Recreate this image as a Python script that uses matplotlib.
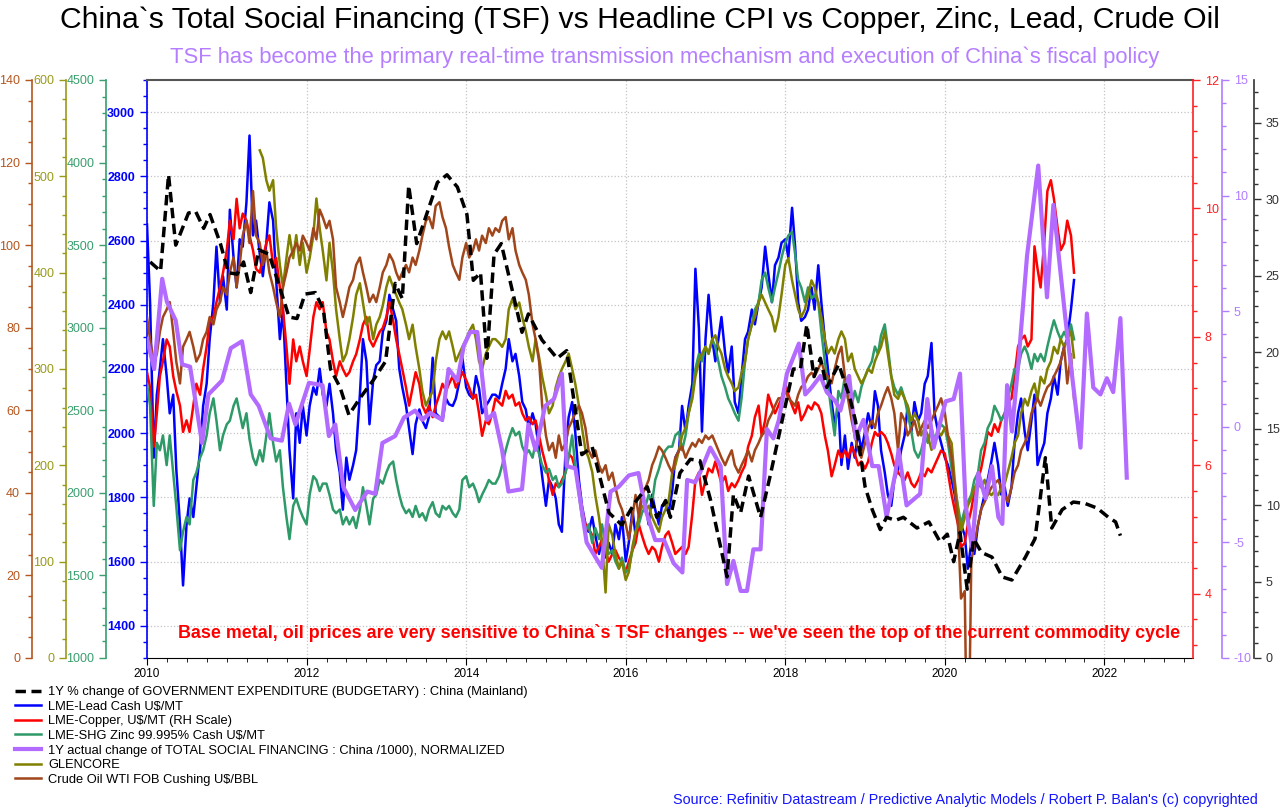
import numpy as np
import pandas as pd
import matplotlib
matplotlib.use("Agg")
import matplotlib.pyplot as plt
from matplotlib.ticker import MultipleLocator, FormatStrFormatter

plt.rcParams["font.family"] = ["Liberation Sans", "DejaVu Sans"]

# ---- series (semi-monthly samples from Jan 2010) ----
lead = [
    2650, 2408, 1924, 2120, 2201, 2293, 2178, 2062, 2120, 1889, 1716, 1526, 1716, 1797, 1739, 1832, 1947, 2085,
    2154, 2293, 2408, 2581, 2408, 2489, 2385, 2696, 2547, 2454, 2604, 2581, 2719, 2927, 2616, 2662, 2558, 2489,
    2593, 2719, 2662, 2477, 2293, 2385, 2154, 1947, 1797, 2062, 1970, 2085, 1993, 2085, 2143, 2120, 2201, 2120,
    2085, 2154, 2062, 1947, 1878, 1762, 1924, 1855, 1901, 1947, 2120, 2293, 2224, 2028, 2166, 2212, 2224, 2316,
    2350, 2431, 2385, 2350, 2201, 2143, 2085, 2016, 1935, 2028, 2074, 2039, 2016, 2051, 2235, 2062, 2050, 2039,
    2108, 2090, 2085, 2108, 2160, 2235, 2143, 2120, 2108, 2178, 2140, 2062, 2085, 2100, 2120,
    2120, 2108, 2154, 2201, 2293, 2224, 2247, 2178, 2097, 2074, 2016, 2062, 2028, 1947, 1866, 1774, 1855, 1832,
    1797, 1716, 1693, 1947, 2050, 2097, 2005, 1855, 1774, 1716, 1693, 1739, 1682, 1624, 1670, 1613, 1659, 1624,
    1716, 1670, 1739, 1601, 1659, 1762, 1682, 1739, 1809, 1774, 1716, 1809, 1762, 1716, 1774, 1786, 1751,
    1820, 1924, 1947, 2085, 2005, 2085, 2154, 2512, 2327, 2005, 2293, 2431, 2293, 2224, 2293, 2362, 2247, 2189,
    2270, 2097, 2062, 2178, 2293, 2316, 2385, 2339, 2408, 2454, 2581, 2500, 2408, 2523, 2547, 2593, 2604, 2547,
    2702, 2581, 2408, 2350, 2362, 2385, 2454, 2385, 2523, 2408, 2293, 2201, 2097, 2028, 2085, 1901,
    1993, 1889, 1970, 1924, 2005, 1947, 2005, 2062, 2016, 2131, 2085, 1947, 1878, 1809, 1774, 1855, 1889, 1947,
    1993, 2085, 2005, 2097, 2039, 2062, 2154, 2178, 2281, 2062, 2005, 1970, 1924, 1901, 1855, 1809, 1739, 1716,
    1682, 1578, 1659, 1624, 1716, 1762, 1809, 1855, 1913, 1970, 1901, 1809, 1832, 1774, 1832, 1970,
    2062, 2108, 2005, 1947, 2039, 2120, 1901, 1935, 1970, 2062, 2108, 2178, 2120, 2224, 2270, 2293, 2385, 2477,
]
copper = [
    7.45, 7.21, 6.29, 6.81, 7.39, 7.62, 7.96, 7.85, 7.39, 7.16, 6.93, 6.52, 6.70, 6.52, 6.93, 7.27, 7.10, 7.50,
    7.85, 8.25, 8.31, 8.54, 8.77, 9.00, 9.35, 9.81, 9.52, 10.15, 9.69, 9.92, 9.81, 9.58, 9.35, 9.06, 9.00, 9.23,
    9.46, 9.58, 9.12, 9.23, 8.77, 8.43, 7.85, 7.27, 7.96, 7.62, 7.85, 7.62, 7.39, 7.79, 8.31, 8.54, 8.43, 8.54,
    8.08, 7.96, 7.62, 7.39, 7.62, 7.50, 7.39, 7.45, 7.62, 7.73, 7.96, 8.19, 8.31, 7.96, 7.85, 7.96, 8.08, 8.14,
    8.31, 8.54, 8.25, 7.96, 7.73, 7.50, 7.21, 6.93, 7.21, 7.45, 7.27, 6.93, 6.81, 6.93, 6.75, 6.93, 7.10, 7.27,
    7.16, 7.27, 7.39, 7.21, 7.33, 7.45, 7.33, 7.21, 7.04, 7.10, 6.81, 6.46, 6.70, 6.64, 6.81,
    7.04, 6.98, 6.93, 7.16, 7.04, 7.10, 6.93, 6.98, 6.81, 6.70, 6.75, 6.64, 6.70, 6.46, 6.23, 6.00, 5.77, 5.54,
    5.72, 5.66, 5.77, 5.89, 6.18, 6.12, 5.95, 5.66, 5.31, 5.08, 5.02, 4.91, 4.62, 4.73, 4.85, 4.68, 4.50, 4.62,
    4.68, 4.56, 4.50, 4.33, 4.50, 4.68, 4.79, 5.08, 4.91, 4.73, 4.62, 4.73, 4.68, 4.50, 4.73, 4.91, 4.97,
    4.79, 4.62, 4.68, 4.73, 4.62, 4.73, 5.25, 5.77, 5.89, 5.54, 5.77, 5.95, 5.89, 6.06, 5.89, 5.72, 5.83, 5.60,
    5.72, 5.66, 5.77, 5.89, 6.00, 6.29, 6.46, 6.75, 6.93, 6.46, 6.70, 7.10, 6.93, 6.81, 6.93, 7.04, 7.27, 7.10,
    6.93, 6.81, 6.98, 6.70, 6.81, 6.93, 6.87, 6.98, 6.93, 6.81, 6.46, 6.23, 5.83, 6.00, 6.23, 6.12,
    6.23, 6.12, 6.29, 6.18, 6.00, 6.06, 5.95, 6.06, 6.35, 6.52, 6.46, 6.52, 6.46, 6.35, 6.18, 6.00, 5.89, 5.83,
    5.77, 5.89, 5.72, 5.66, 5.77, 5.89, 5.83, 5.95, 5.89, 6.00, 6.12, 6.23, 6.18, 5.89, 5.54, 5.31, 5.08, 4.73,
    4.79, 5.08, 5.31, 5.60, 5.77, 5.95, 6.23, 6.52, 6.46, 6.64, 6.52, 6.70, 6.81, 6.98, 7.04, 7.39,
    7.85, 7.96, 8.02, 7.85, 7.96, 9.41, 9.06, 8.77, 9.50, 10.27, 10.44, 10.15, 9.69, 9.35, 9.46, 9.81, 9.58, 9.00,
]
zinc = [
    2661, 2527, 1921, 2303, 2258, 2348, 2168, 2348, 2123, 1921, 1652, 1765, 1854, 1809, 2078, 2123, 2213, 2258,
    2348, 2482, 2572, 2437, 2258, 2348, 2415, 2437, 2527, 2572, 2482, 2392, 2482, 2325, 2213, 2168, 2258, 2190,
    2348, 2482, 2303, 2190, 2258, 2034, 1854, 1720, 1921, 1966, 1899, 1854, 1809, 1989, 2101, 2078, 2011, 2056,
    2056, 1989, 1899, 1877, 1899, 1809, 1854, 1809, 1854, 1787, 1899, 2034, 1921, 1809, 1966, 1989, 2078, 2056,
    2123, 2168, 2190, 2078, 1989, 1921, 1877, 1899, 1854, 1921, 1854, 1877, 1832, 1899, 1944, 1877, 1854, 1921,
    1899, 1921, 1877, 1854, 1899, 2078, 2101, 2034, 2056, 2011, 1944, 1989, 2034, 2078, 2056,
    2056, 2101, 2168, 2258, 2325, 2392, 2348, 2370, 2280, 2235, 2258, 2213, 2303, 2235, 2168, 2123, 2145, 2078,
    2101, 2034, 2056, 2123, 2213, 2348, 2168, 1989, 1854, 1765, 1809, 1697, 1787, 1720, 1809, 1675, 1630, 1652,
    1585, 1540, 1608, 1518, 1540, 1652, 1765, 1809, 1877, 1921, 1989, 1944, 2078, 2145, 2213, 2258, 2280,
    2280, 2348, 2370, 2258, 2348, 2482, 2594, 2751, 2841, 2796, 2886, 2841, 2930, 2886, 2796, 2706, 2639, 2572,
    2527, 2482, 2437, 2572, 2796, 2930, 3020, 3110, 3155, 3289, 3334, 3244, 3155, 3244, 3334, 3424, 3513, 3558,
    3581, 3446, 3289, 3244, 3155, 3244, 3177, 3199, 3155, 2975, 2796, 2661, 2482, 2348, 2617, 2572,
    2706, 2572, 2527, 2617, 2549, 2639, 2706, 2751, 2796, 2886, 2841, 2953, 3020, 2886, 2706, 2639, 2594, 2639,
    2572, 2482, 2370, 2258, 2213, 2258, 2348, 2303, 2392, 2325, 2370, 2415, 2392, 2303, 2145, 2034, 1921, 1809,
    1899, 1944, 1989, 2078, 2123, 2258, 2303, 2392, 2437, 2527, 2482, 2437, 2482, 2572, 2661, 2751,
    2751, 2841, 2886, 2841, 2751, 2841, 2796, 2841, 2796, 2886, 2975, 3045, 2975, 2930, 2975, 2930, 3020, 2930,
]
oil = [
    82.6, 77.2, 71.8, 73.6, 79.0, 82.6, 84.4, 86.2, 79.0, 71.8, 66.5, 75.4, 77.2, 79.0, 75.4, 71.8, 73.6, 77.2,
    79.0, 82.6, 80.8, 84.4, 86.2, 89.8, 88.0, 93.4, 97.0, 89.8, 95.2, 102.3, 105.9, 100.5, 113.1, 102.3, 100.5,
    95.2, 98.7, 93.4, 89.8, 86.2, 82.6, 89.8, 93.4, 97.0, 98.7, 100.5, 98.7, 102.3, 100.5, 98.7, 104.1, 101.4,
    108.6, 106.8,
    104.1, 105.9, 101.4, 89.8, 86.2, 82.6, 86.2, 89.8, 91.6, 95.2, 97.0, 93.4, 89.8, 86.2, 88.0, 86.2, 89.8, 93.4,
    95.2, 97.8, 96.1, 93.4, 91.6, 93.4, 95.2, 93.4, 97.0, 95.2, 98.7, 102.3, 105.9, 106.8, 104.1, 109.5, 110.4,
    106.8, 104.1, 99.6, 95.2, 93.4, 91.6, 97.0, 100.5, 97.0, 98.7, 101.4, 98.7, 102.3, 100.5, 104.1, 102.3,
    104.1, 103.2, 105.9, 106.8, 101.4, 104.1, 98.7, 95.2, 93.4, 91.6, 88.0, 80.8, 77.2, 71.8, 61.1, 53.9, 50.3,
    52.1, 48.5, 53.9, 50.3, 52.1, 55.7, 57.5, 59.3, 61.1, 59.3, 55.7, 50.3, 48.5, 50.3, 46.7, 44.9, 46.7, 43.1,
    44.9, 41.3, 37.8, 36.0, 32.4, 28.8, 34.2, 39.5, 34.2, 39.5, 41.3, 43.1, 46.7, 48.5, 51.2, 50.3, 48.5, 46.7,
    44.9, 48.5, 50.3, 51.2, 48.5, 50.3, 52.1, 51.2, 53.0, 52.1, 53.9, 53.0, 53.9, 52.1, 50.3, 48.5, 46.7, 48.5,
    50.3, 46.7, 44.9, 46.7, 48.5, 50.3, 47.6, 50.3, 52.1, 53.9, 54.8, 57.5, 59.3, 61.1, 62.9, 62.9, 64.7, 62.9,
    62.0, 61.1, 63.8, 65.6, 66.5, 68.2, 69.1, 68.2, 70.0, 71.8, 69.1, 68.2, 66.5, 70.0, 73.6, 75.4,
    68.2, 62.9, 57.5, 53.9, 50.3, 48.5, 52.1, 55.7, 57.5, 55.7, 59.3, 61.1, 63.8, 65.6, 62.9, 59.3, 50.3, 59.3,
    57.5, 53.9, 55.7, 57.5, 53.9, 55.7, 57.5, 55.7, 57.5, 59.3, 61.1, 62.9, 59.3, 53.9, 48.5, 41.3, 32.4, 14.4,
    16.2, -37.6, 23.4, 27.9, 32.4, 36.0, 37.8, 39.5, 41.3, 42.2, 43.1, 41.3, 39.5, 37.8, 41.3, 44.9,
    46.7, 50.3, 52.1, 53.9, 59.3, 61.1, 62.9, 61.1, 63.8, 65.6, 66.5, 68.2, 70.0, 71.8, 75.4, 66.5, 73.6, 62.9,
]
glencore_start = "2011-06-01"
glencore = [
    527, 519, 496, 485, 496, 446, 408, 385, 415, 439, 415, 439, 408, 431, 400, 415, 439, 477, 446, 423,
    392, 431, 400, 362, 331, 308, 316, 331, 354, 377, 389, 369, 346, 354, 331, 346, 354, 366, 385, 396,
    385, 377, 369, 362, 346, 331, 346, 323, 300, 277, 262, 269, 277, 308, 331, 339, 331, 339, 323, 308,
    316, 323, 331, 339, 346, 331, 308, 300, 316, 323, 331,
    331, 327, 323, 331, 362, 373, 362, 369, 354, 339, 323, 308, 331, 312, 292, 273, 254, 262, 281, 292,
    300, 308, 316, 300, 285, 262, 239, 216, 208, 193, 169, 146, 120, 68, 139, 127, 108, 93, 100, 81,
    89, 116, 131, 146, 158, 154, 158, 146, 139, 131, 146, 154, 162,
    193, 200, 216, 231, 239, 254, 269, 292, 308, 316, 323, 316, 331, 335, 323, 316, 300, 292, 285, 277,
    281, 296, 308, 331, 346, 354, 369, 377, 369, 362, 354, 339, 354, 377, 408, 415, 392, 377, 362, 354,
    362, 377, 392, 385, 369, 354, 331, 316, 323, 316, 331, 339,
    331, 308, 316, 300, 292, 285, 292, 300, 296, 308, 316, 323, 339, 316, 292, 273, 269, 277, 269, 262,
    246, 254, 246, 231, 239, 231, 216, 223, 235, 231, 239, 231, 223, 185, 154, 131, 146, 158, 166, 177,
    181, 177, 185, 173, 169, 173, 169, 177, 181, 193, 208, 223,
    231, 254, 269, 262, 277, 285, 269, 292, 285, 300, 308, 323, 316, 331, 323, 331, 339, 312,
]
gov_t = [
    2010.04, 2010.17, 2010.27, 2010.36, 2010.52, 2010.61, 2010.71, 2010.79, 2010.92, 2011.02, 2011.13, 2011.21,
    2011.30, 2011.40, 2011.53, 2011.63, 2011.78, 2011.88, 2011.98, 2012.11, 2012.21, 2012.30, 2012.42, 2012.53,
    2012.67, 2012.84, 2012.99, 2013.11, 2013.20, 2013.28, 2013.38, 2013.51, 2013.64, 2013.76, 2013.89, 2014.01,
    2014.09, 2014.18, 2014.26, 2014.35, 2014.44, 2014.58, 2014.70, 2014.78, 2014.95, 2015.14, 2015.26, 2015.45,
    2015.58, 2015.79, 2015.95, 2016.12, 2016.27, 2016.39, 2016.50, 2016.56, 2016.68, 2016.81, 2016.93, 2017.06,
    2017.27, 2017.35, 2017.44, 2017.54, 2017.69, 2017.81, 2017.98, 2018.10, 2018.19, 2018.27, 2018.36, 2018.44,
    2018.52, 2018.67, 2018.81, 2018.88, 2019.00, 2019.09, 2019.19, 2019.27, 2019.38, 2019.48, 2019.65, 2019.80,
    2019.94, 2020.03, 2020.11, 2020.19, 2020.28, 2020.36, 2020.46, 2020.59, 2020.72, 2020.84, 2021.01, 2021.13,
    2021.26, 2021.34, 2021.47, 2021.61, 2021.76, 2021.91, 2022.05, 2022.14, 2022.20,
]
gov_v = [
    25.9, 25.3, 31.6, 27.0, 29.1, 29.2, 28.1, 29.0, 27.1, 25.2, 25.1, 25.9, 23.9, 26.7, 26.4, 24.8, 22.3, 22.2,
    23.8, 23.9, 22.8, 18.9, 17.7, 15.9, 17.0, 18.2, 19.4, 24.5, 23.5, 30.9, 27.1, 29.1, 31.1, 31.6, 30.8, 29.0,
    24.7, 25.2, 19.6, 26.4, 27.1, 24.0, 21.3, 22.5, 20.8, 19.6, 20.1, 13.3, 13.8, 9.5, 8.7, 10.2, 11.2, 9.2,
    10.3, 9.2, 12.1, 13.0, 12.9, 10.4, 5.3, 10.7, 9.5, 11.9, 9.2, 11.9, 16.0, 18.9, 18.9, 21.8, 18.4, 19.6,
    17.7, 19.2, 17.0, 15.5, 11.2, 9.7, 8.4, 9.2, 9.0, 9.2, 8.5, 8.9, 7.6, 8.1, 6.3, 8.2, 4.5, 7.8, 6.9, 6.6,
    5.3, 5.1, 6.6, 7.8, 13.1, 8.5, 9.7, 10.2, 10.1, 9.8, 9.2, 8.9, 8.0,
]
tsf_t = [
    2010.00, 2010.09, 2010.19, 2010.25, 2010.36, 2010.44, 2010.54, 2010.69, 2010.77, 2010.94, 2011.05, 2011.19,
    2011.30, 2011.40, 2011.55, 2011.69, 2011.78, 2011.86, 2012.03, 2012.20, 2012.28, 2012.36, 2012.46, 2012.61,
    2012.76, 2012.86, 2012.95, 2013.11, 2013.22, 2013.36, 2013.45, 2013.55, 2013.70, 2013.78, 2013.89, 2013.97,
    2014.05, 2014.14, 2014.26, 2014.35, 2014.45, 2014.53, 2014.70, 2014.78, 2014.87, 2014.99, 2015.10, 2015.20,
    2015.26, 2015.37, 2015.51, 2015.70, 2015.81, 2015.91, 2016.04, 2016.16, 2016.25, 2016.37, 2016.48, 2016.60,
    2016.71, 2016.77, 2016.87, 2016.93, 2017.06, 2017.19, 2017.27, 2017.35, 2017.44, 2017.52, 2017.60, 2017.69,
    2017.77, 2017.85, 2017.92, 2018.02, 2018.17, 2018.25, 2018.33, 2018.44, 2018.52, 2018.63, 2018.69, 2018.80,
    2018.88, 2018.98, 2019.09, 2019.17, 2019.27, 2019.38, 2019.42, 2019.52, 2019.69, 2019.78, 2019.86, 2020.01,
    2020.11, 2020.19, 2020.26, 2020.34, 2020.42, 2020.51, 2020.59, 2020.67, 2020.72, 2020.78, 2020.84, 2020.92,
    2021.03, 2021.17, 2021.28, 2021.36, 2021.51, 2021.70, 2021.78, 2021.86, 2021.95, 2022.03, 2022.11, 2022.20,
    2022.28,
]
tsf_v = [
    3.8, 2.5, 6.4, 5.4, 4.6, 2.7, 2.6, -0.7, 1.4, 2.0, 3.4, 3.7, 1.4, 0.9, -0.5, -0.6, 1.0, 0.1, 1.9, 1.8,
    -0.4, 0.1, -2.6, -3.6, -2.8, -2.9, -0.7, -0.4, 0.4, 0.7, 0.3, 0.6, 0.3, 2.5, 2.0, 3.5, 4.1, 4.1, 0.3, 0.6,
    -1.0, -2.8, -2.7, 0.1, -1.0, 0.9, 1.2, 2.3, -1.7, -1.8, -5.0, -6.1, -2.8, -2.6, -2.1, -2.0, -3.6, -4.9,
    -4.9, -5.9, -6.3, -2.3, -2.4, -2.0, -0.9, -1.7, -6.8, -5.8, -7.1, -7.1, -5.3, -5.3, -0.1, -0.5, 0.3, 2.3,
    3.6, 1.4, 1.7, 2.2, 1.5, 1.1, 0.7, 2.2, -0.5, 0.3, -1.7, -1.7, -3.9, -2.0, -1.0, -3.4, -2.9, 1.2, -0.9,
    1.1, 1.2, 2.3, -3.4, -5.2, -2.0, -3.1, -1.7, -3.9, -4.2, 1.8, -0.2, 2.7, 7.4, 11.3, 5.6, 9.6, 4.7, -0.9,
    4.9, 1.7, 1.4, 2.1, 1.5, 4.7, -2.2,
]

C_LEAD, C_CU, C_ZN = "#0000FF", "#FF0000", "#2E9A68"
C_TSF, C_GLEN, C_OIL = "#B36BFF", "#808000", "#A0461A"


def decimal_years(dates):
    return dates.year + (dates.dayofyear - 1) / 365.25


t_metals = decimal_years(pd.date_range("2010-01-01", periods=len(lead), freq="SMS"))
t_glen = decimal_years(pd.date_range(glencore_start, periods=len(glencore), freq="SMS"))

W, H = 1280, 808
fig = plt.figure(figsize=(W / 100, H / 100), dpi=100)
px0, px1, py0, py1 = 147, 1193, 80, 658
ax = fig.add_axes([px0 / W, 1 - py1 / H, (px1 - px0) / W, (py1 - py0) / H])


def style_y(a, color, lim, major, minor, bold=False):
    a.set_ylim(*lim)
    a.yaxis.set_major_locator(MultipleLocator(major))
    a.yaxis.set_minor_locator(MultipleLocator(minor))
    a.yaxis.set_major_formatter(FormatStrFormatter("%g"))
    a.tick_params(axis="y", which="both", colors=color, direction="out", labelsize=9, width=1)
    a.tick_params(axis="y", which="major", length=5)
    a.tick_params(axis="y", which="minor", length=3)
    if bold:
        for lab in a.get_yticklabels():
            lab.set_fontweight("bold")


def side_axis(side, pos, color, lim, major, minor):
    a = ax.twinx()
    for s in a.spines.values():
        s.set_visible(False)
    sp = a.spines[side]
    sp.set_visible(True)
    sp.set_position(("axes", pos))
    sp.set_color(color)
    sp.set_linewidth(1.2)
    a.yaxis.set_ticks_position(side)
    style_y(a, color, lim, major, minor)
    return a


# main axis: lead
ax.spines["right"].set_visible(False)
ax.spines["left"].set_color(C_LEAD)
ax.spines["left"].set_linewidth(1.2)
ax.spines["top"].set_color("#555555")
ax.spines["top"].set_linewidth(1.5)
ax.spines["bottom"].set_color("black")
style_y(ax, C_LEAD, (1300, 3100), 200, 50, bold=True)
ax.set_xlim(2010, 2023.11)
ax.xaxis.set_major_locator(MultipleLocator(2))
ax.xaxis.set_minor_locator(MultipleLocator(0.25))
ax.xaxis.set_major_formatter(FormatStrFormatter("%d"))
ax.tick_params(axis="x", which="both", direction="out", labelsize=8.5, colors="black", pad=2)
ax.tick_params(axis="x", which="major", length=5)
ax.tick_params(axis="x", which="minor", length=3)
ax.grid(True, which="major", color="#c4c4c4", ls=":", lw=0.9)
ax.set_axisbelow(True)

ax_cu = side_axis("right", 1.0, "#FF2020", (3, 12), 2, 0.4)
ax_zn = side_axis("left", -0.0392, "#3A9E6E", (1000, 4500), 500, 100)
ax_gl = side_axis("left", -0.0774, "#9A9A1A", (0, 600), 100, 20)
ax_oil = side_axis("left", -0.110, "#B4561E", (0, 140), 20, 5)
ax_tsf = side_axis("right", 1.0277, "#B07CFF", (-10, 15), 5, 1)
ax_gov = side_axis("right", 1.0583, "#333333", (0, 37.8), 5, 1)

l_lead, = ax.plot(t_metals, lead, color=C_LEAD, lw=1.8)
l_cu, = ax_cu.plot(t_metals, copper, color=C_CU, lw=1.8)
l_zn, = ax_zn.plot(t_metals, zinc, color=C_ZN, lw=1.8)
l_gl, = ax_gl.plot(t_glen, glencore, color=C_GLEN, lw=1.8)
l_oil, = ax_oil.plot(t_metals, oil, color=C_OIL, lw=1.8)
l_tsf, = ax_tsf.plot(tsf_t, tsf_v, color=C_TSF, lw=3)
l_gov, = ax_gov.plot(gov_t, gov_v, color="black", lw=2.5, ls=(0, (3, 1.6)))

fig.text(0.5, 1 - 20 / H, "China`s Total Social Financing (TSF) vs Headline CPI vs Copper, Zinc, Lead, Crude Oil",
         ha="center", va="center", fontsize=21.7, color="black")
fig.text(665 / W, 1 - 57 / H,
         "TSF has become the primary real-time transmission mechanism and execution of China`s fiscal policy",
         ha="center", va="center", fontsize=15.8, color="#B57EFF")
fig.text(178 / W, 1 - 633 / H,
         "Base metal, oil prices are very sensitive to China`s TSF changes -- we've seen the top of the current commodity cycle",
         ha="left", va="center", fontsize=12.9, fontweight="bold", color="#FF0000")

handles = [l_gov, l_lead, l_cu, l_zn, l_tsf, l_gl, l_oil]
labels = [
    "1Y % change of GOVERNMENT EXPENDITURE (BUDGETARY) : China (Mainland)",
    "LME-Lead Cash U$/MT",
    "LME-Copper, U$/MT (RH Scale)",
    "LME-SHG Zinc 99.995% Cash U$/MT",
    "1Y actual change of TOTAL SOCIAL FINANCING : China /1000), NORMALIZED",
    "GLENCORE",
    "Crude Oil WTI FOB Cushing U$/BBL",
]
fig.legend(handles, labels, loc="upper left", bbox_to_anchor=(15 / W, 1 - 686 / H), frameon=False,
           fontsize=9.3, handlelength=2.0, handletextpad=0.55, labelspacing=0.2, borderpad=0,
           borderaxespad=0)

fig.text(1258 / W, 1 - 800 / H,
         "Source: Refinitiv Datastream / Predictive Analytic Models / Robert P. Balan's (c) copyrighted",
         ha="right", va="center", fontsize=10.4, color="#1414FF")

fig.savefig("out.png", dpi=100, facecolor="white")
